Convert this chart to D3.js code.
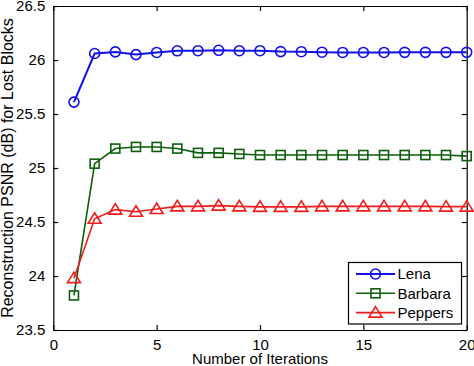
<!DOCTYPE html>
<html>
<head>
<meta charset="utf-8">
<script src="https://cdn.jsdelivr.net/npm/d3@7"></script>
<style>
  body { margin: 0; background: #fff; }
  text { font-family: "Liberation Sans", Arial, sans-serif; fill: #000; }
</style>
</head>
<body>
<div id="main"></div>
<script>
const iterations = d3.range(1, 21);
const lena = [25.61, 26.06, 26.075, 26.05, 26.07, 26.085, 26.086, 26.09, 26.086, 26.086,
              26.078, 26.077, 26.072, 26.07, 26.07, 26.07, 26.071, 26.071, 26.071, 26.071];
const barbara = [23.82, 25.04, 25.18, 25.195, 25.195, 25.18, 25.14, 25.14, 25.13, 25.12,
                 25.12, 25.12, 25.12, 25.12, 25.12, 25.12, 25.12, 25.12, 25.12, 25.11];
const peppers = [23.98, 24.53, 24.615, 24.595, 24.62, 24.645, 24.645, 24.652, 24.645, 24.64,
                 24.64, 24.64, 24.645, 24.645, 24.645, 24.645, 24.645, 24.645, 24.642, 24.642];
const xTicks = [0, 5, 10, 15, 20];
const yTicks = [23.5, 24, 24.5, 25, 25.5, 26, 26.5];
const seriesNames = ["Lena", "Barbara", "Peppers"];

const series = [
  {name: seriesNames[0], values: lena, color: "#1010e8", marker: "circle", width: 2},
  {name: seriesNames[1], values: barbara, color: "#0b5e0b", marker: "square", width: 1.6},
  {name: seriesNames[2], values: peppers, color: "#ee1c1c", marker: "triangle", width: 1.6}
];

const W = 474, H = 366;
const m = {left: 53.3, right: 7.3, top: 6, bottom: 36};
const iw = W - m.left - m.right, ih = H - m.top - m.bottom;

const svg = d3.select("#main").append("svg").attr("width", W).attr("height", H);
const g = svg.append("g").attr("transform", `translate(${m.left},${m.top})`);

const x = d3.scaleLinear().domain([0, 20]).range([0, iw]);
const y = d3.scaleLinear().domain([23.5, 26.5]).range([ih, 0]);

// axes, matlab style: ticks pointing inward, mirrored on top/right
const axisStyle = sel => {
  sel.selectAll("path.domain").attr("stroke", "#000").attr("stroke-width", 1.2);
  sel.selectAll(".tick line").attr("stroke", "#000").attr("stroke-width", 1.2);
  sel.selectAll("text").attr("font-size", 15);
};

g.append("g").attr("transform", `translate(0,${ih})`)
  .call(d3.axisBottom(x).tickValues(xTicks).tickSize(-5).tickSizeOuter(0).tickPadding(9).tickFormat(d3.format("d")))
  .call(axisStyle);
g.append("g")
  .call(d3.axisLeft(y).tickValues(yTicks).tickSize(-5).tickSizeOuter(0).tickPadding(8).tickFormat(d => d))
  .call(axisStyle);
g.append("g")
  .call(d3.axisTop(x).tickValues(xTicks).tickSize(-5).tickSizeOuter(0).tickFormat(""))
  .call(axisStyle);
g.append("g").attr("transform", `translate(${iw},0)`)
  .call(d3.axisRight(y).tickValues(yTicks).tickSize(-5).tickSizeOuter(0).tickFormat(""))
  .call(axisStyle);

const line = d3.line().x((d, i) => x(iterations[i])).y(d => y(d));

function drawMarker(sel, s, cx, cy) {
  if (s.marker === "circle") {
    sel.append("circle").attr("cx", cx).attr("cy", cy).attr("r", 5);
  } else if (s.marker === "square") {
    sel.append("rect").attr("x", cx - 4.5).attr("y", cy - 4.5).attr("width", 9).attr("height", 9);
  } else {
    sel.append("path").attr("d", `M${cx},${cy - 6}L${cx + 6.5},${cy + 4.5}L${cx - 6.5},${cy + 4.5}Z`);
  }
}

series.forEach(s => {
  const sg = g.append("g");
  sg.append("path").datum(s.values)
    .attr("d", line).attr("fill", "none")
    .attr("stroke", s.color).attr("stroke-width", s.width);
  const mg = sg.append("g").attr("fill", "none").attr("stroke", s.color).attr("stroke-width", 1.6);
  s.values.forEach((v, i) => drawMarker(mg, s, x(iterations[i]), y(v)));
});

// legend
const lg = svg.append("g").attr("transform", "translate(348.5,262.5)");
lg.append("rect").attr("width", 113).attr("height", 61.5)
  .attr("fill", "#fff").attr("stroke", "#000").attr("stroke-width", 1.2);
series.forEach((s, i) => {
  const ly = 11.5 + i * 19.3;
  lg.append("line").attr("x1", 7.5).attr("x2", 46.5).attr("y1", ly).attr("y2", ly)
    .attr("stroke", s.color).attr("stroke-width", s.width);
  const mg = lg.append("g").attr("fill", "none").attr("stroke", s.color).attr("stroke-width", 1.6);
  drawMarker(mg, s, 27, ly);
  lg.append("text").attr("x", 49).attr("y", ly).attr("dy", "0.36em")
    .attr("font-size", 15).text(s.name);
});

svg.append("text")
  .attr("x", m.left + iw / 2).attr("y", 364)
  .attr("text-anchor", "middle").attr("font-size", 15)
  .text("Number of Iterations");

svg.append("text")
  .attr("transform", `translate(13,${m.top + ih / 2}) rotate(-90)`)
  .attr("text-anchor", "middle").attr("font-size", 16)
  .text("Reconstruction PSNR (dB) for Lost Blocks");
</script>
</body>
</html>
